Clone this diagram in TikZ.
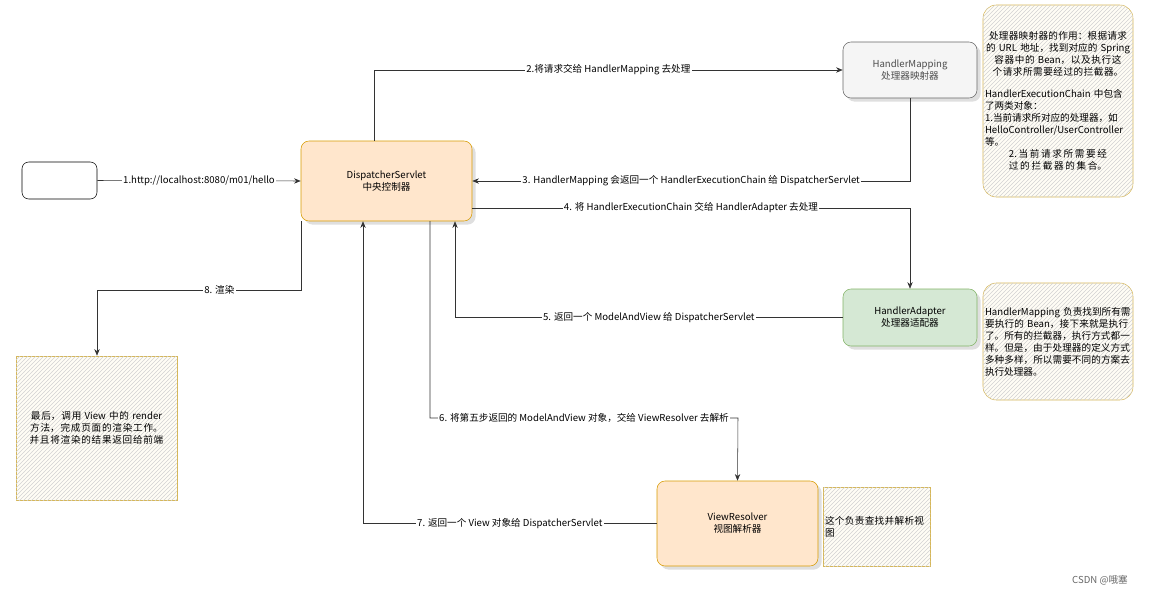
\documentclass[tikz,border=0pt]{standalone}
\usepackage{fontspec}
\setmainfont{Noto Sans CJK SC}
\XeTeXlinebreaklocale "zh"
\XeTeXlinebreakskip=0pt plus 1pt
\usetikzlibrary{patterns,shadows,arrows.meta}
\definecolor{orf}{HTML}{FFE6CC}\definecolor{ord}{HTML}{D79B00}
\definecolor{grf}{HTML}{F5F5F5}\definecolor{grd}{HTML}{666666}
\definecolor{gnf}{HTML}{D5E8D4}\definecolor{gnd}{HTML}{82B366}
\definecolor{ntf}{HTML}{FFFDF5}\definecolor{ntd}{HTML}{D6B656}
\begin{document}
\begin{tikzpicture}[x=0.75pt,y=-0.75pt,font=\fontsize{7.2}{9}\selectfont,
 box/.style={draw,rounded corners=6pt,align=center,inner sep=2pt,drop shadow={opacity=0.25}},
 note/.style={draw=ntd,fill=ntf,postaction={pattern=north east lines,pattern color=gray!35},inner sep=1pt,align=center},
 conn/.style={draw=black!80,-{Stealth[length=5pt,width=4pt]}},
 lbl/.style={fill=white,inner sep=1pt}]
\useasboundingbox (0,0) rectangle (1157,596);
\node[draw,rounded corners=5pt,minimum width=75*0.75pt,minimum height=37*0.75pt] (blank) at (59.5,180.5) {};
\node[box,fill=orf,draw=ord,minimum width=171*0.75pt,minimum height=80*0.75pt] (ds) at (386.5,181) {DispatcherServlet\\中央控制器};
\node[box,fill=grf,draw=grd,minimum width=134*0.75pt,minimum height=56*0.75pt,text=black!70] (hm) at (910,70) {HandlerMapping\\处理器映射器};
\node[box,fill=gnf,draw=gnd,minimum width=134*0.75pt,minimum height=57*0.75pt] (ha) at (910,317.5) {HandlerAdapter\\处理器适配器};
\node[box,fill=orf,draw=ord,minimum width=161*0.75pt,minimum height=85*0.75pt] (vr) at (737.5,523.5) {ViewResolver\\视图解析器};
\node[note,rounded corners=10pt,minimum width=150*0.75pt,minimum height=192*0.75pt,text width=146*0.75pt] (n1) at (1058,101) {处理器映射器的作用：根据请求的 URL 地址，找到对应的 Spring 容器中的 Bean，以及执行这个请求所需要经过的拦截器。\\[8pt]
\raggedright HandlerExecutionChain 中包含了两类对象：\\1.当前请求所对应的处理器，如 HelloController/UserController 等。\\2.当前请求所需要经过的拦截器的集合。};
\node[note,rounded corners=10pt,minimum width=150*0.75pt,minimum height=117*0.75pt,text width=146*0.75pt,align=left] (n2) at (1058,341.5) {HandlerMapping 负责找到所有需要执行的 Bean，接下来就是执行了。所有的拦截器，执行方式都一样。但是，由于处理器的定义方式多种多样，所以需要不同的方案去执行处理器。};
\node[note,minimum width=161*0.75pt,minimum height=144*0.75pt,text width=155*0.75pt] (n0) at (96.5,428) {最后，调用 View 中的 render 方法，完成页面的渲染工作。并且将渲染的结果返回给前端};
\node[note,minimum width=106*0.75pt,minimum height=79*0.75pt,text width=104*0.75pt,align=left] (n3) at (877,526.5) {这个负责查找并解析视图};
\node[text=black!60] (wm) at (1100,580) {CSDN @哦塞};
\draw[conn] (blank.east) -- node[lbl]{1.http://localhost:8080/m01/hello} (ds.west);
\draw[conn] (ds.north -| 374,0) |- node[lbl,pos=0.75]{2.将请求交给 HandlerMapping 去处理} (hm.west);
\draw[conn] (hm.south) |- node[lbl,pos=0.75]{3. HandlerMapping 会返回一个 HandlerExecutionChain 给 DispatcherServlet} (ds.east);
\coordinate (d4) at (472,208);
\draw[conn] (d4) -| node[lbl,pos=0.25]{4. 将 HandlerExecutionChain 交给 HandlerAdapter 去处理} (ha.north);
\draw[conn] (ha.west) -| node[lbl,pos=0.25]{5. 返回一个 ModelAndView 给 DispatcherServlet} (ds.south -| 455,0);
\coordinate (d6) at (430,221);\coordinate (d6b) at (738,418);
\draw[conn] (d6) |- node[lbl,pos=0.75]{6. 将第五步返回的 ModelAndView 对象，交给 ViewResolver 去解析} (d6b) -- (vr.north);
\draw[conn] (vr.west) -| node[lbl,pos=0.25]{7. 返回一个 View 对象给 DispatcherServlet} (ds.south -| 363,0);
\coordinate (d8) at (301,221);\coordinate (d8b) at (97,290);
\draw[conn] (d8) |- node[lbl,pos=0.7]{8. 渲染} (d8b) -- (n0.north -| 97,0);
\end{tikzpicture}
\end{document}
